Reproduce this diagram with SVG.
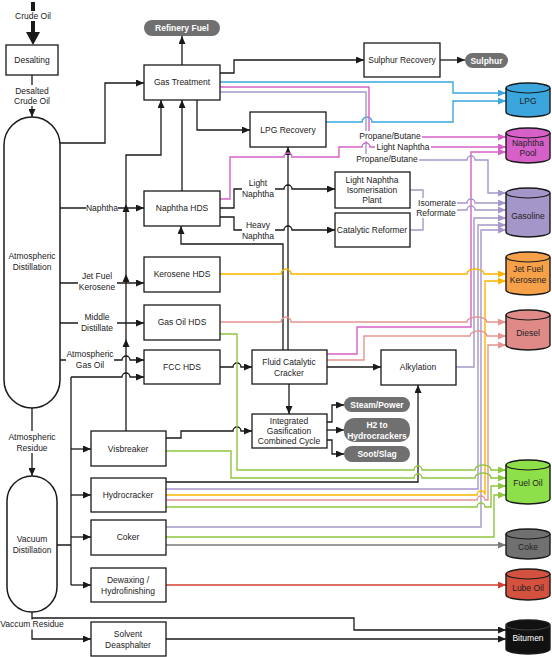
<svg xmlns="http://www.w3.org/2000/svg" width="552" height="657" viewBox="0 0 552 657">
<style>
.bx{fill:#fff;stroke:#1a1a1a;stroke-width:1.3}
.col{fill:#fff;stroke:#1a1a1a;stroke-width:1.5}
.t{font-family:"Liberation Sans",Arial,sans-serif;font-size:8.5px;fill:#222;text-anchor:middle;dominant-baseline:central}
.pt{font-family:"Liberation Sans",Arial,sans-serif;font-size:8.5px;font-weight:bold;fill:#fff;text-anchor:middle;dominant-baseline:central}
.pill{fill:#707070}
.tank{stroke:#1a1a1a;stroke-width:1.4}
.tl{fill:none;stroke:#1a1a1a;stroke-width:1.2}
.k{fill:none;stroke:#1a1a1a;stroke-width:1.3}
.B{fill:none;stroke:#3aa6dd;stroke-width:1.4}
.P{fill:none;stroke:#d660c8;stroke-width:1.4}
.L{fill:none;stroke:#a596c9;stroke-width:1.4}
.O{fill:none;stroke:#fbb400;stroke-width:1.4}
.S{fill:none;stroke:#e59590;stroke-width:1.4}
.G{fill:none;stroke:#8dc63f;stroke-width:1.4}
.C{fill:none;stroke:#7a7a7a;stroke-width:1.4}
.R{fill:none;stroke:#d2412f;stroke-width:1.4}
.lb{fill:#fff}
</style>
<defs>
<marker id="aK" viewBox="0 0 8 7" refX="8" refY="3.5" markerWidth="8" markerHeight="7" markerUnits="userSpaceOnUse" orient="auto"><path d="M0,0 L8,3.5 L0,7 z" fill="#1a1a1a"/></marker>
<marker id="aB" viewBox="0 0 8 7" refX="8" refY="3.5" markerWidth="8" markerHeight="7" markerUnits="userSpaceOnUse" orient="auto"><path d="M0,0 L8,3.5 L0,7 z" fill="#3aa6dd"/></marker>
<marker id="aP" viewBox="0 0 8 7" refX="8" refY="3.5" markerWidth="8" markerHeight="7" markerUnits="userSpaceOnUse" orient="auto"><path d="M0,0 L8,3.5 L0,7 z" fill="#d660c8"/></marker>
<marker id="aL" viewBox="0 0 8 7" refX="8" refY="3.5" markerWidth="8" markerHeight="7" markerUnits="userSpaceOnUse" orient="auto"><path d="M0,0 L8,3.5 L0,7 z" fill="#a596c9"/></marker>
<marker id="aO" viewBox="0 0 8 7" refX="8" refY="3.5" markerWidth="8" markerHeight="7" markerUnits="userSpaceOnUse" orient="auto"><path d="M0,0 L8,3.5 L0,7 z" fill="#fbb400"/></marker>
<marker id="aS" viewBox="0 0 8 7" refX="8" refY="3.5" markerWidth="8" markerHeight="7" markerUnits="userSpaceOnUse" orient="auto"><path d="M0,0 L8,3.5 L0,7 z" fill="#e59590"/></marker>
<marker id="aG" viewBox="0 0 8 7" refX="8" refY="3.5" markerWidth="8" markerHeight="7" markerUnits="userSpaceOnUse" orient="auto"><path d="M0,0 L8,3.5 L0,7 z" fill="#8dc63f"/></marker>
<marker id="aC" viewBox="0 0 8 7" refX="8" refY="3.5" markerWidth="8" markerHeight="7" markerUnits="userSpaceOnUse" orient="auto"><path d="M0,0 L8,3.5 L0,7 z" fill="#7a7a7a"/></marker>
<marker id="aR" viewBox="0 0 8 7" refX="8" refY="3.5" markerWidth="8" markerHeight="7" markerUnits="userSpaceOnUse" orient="auto"><path d="M0,0 L8,3.5 L0,7 z" fill="#d2412f"/></marker>
</defs>
<rect width="552" height="657" fill="#fff"/>

<g id="connectors">
<!-- crude oil feed -->
<path d="M33,2 V34" fill="none" stroke="#1a1a1a" stroke-width="4"/>
<polygon points="26,32 40,32 33,45" fill="#1a1a1a"/>
<path class="k" d="M32,75 V117" marker-end="url(#aK)"/>
<path class="k" d="M32,408 V476" marker-end="url(#aK)"/>
<path class="k" d="M60,143 H105 V83 H144" marker-end="url(#aK)"/>
<path class="k" d="M60,208 H144" marker-end="url(#aK)"/>
<path class="k" d="M60,283 H144" marker-end="url(#aK)"/>
<path class="k" d="M60,323 H144" marker-end="url(#aK)"/>
<path class="k" d="M60,360 H122 a4,4 0 0 1 8,0 H144" marker-end="url(#aK)"/>
<path class="k" d="M57,545 H71 M71,377 V585"/>
<path class="k" d="M71,377 H122 a4,4 0 0 1 8,0 H144" marker-end="url(#aK)"/>
<path class="k" d="M71,449 H91" marker-end="url(#aK)"/>
<path class="k" d="M71,495 H91" marker-end="url(#aK)"/>
<path class="k" d="M71,537 H91" marker-end="url(#aK)"/>
<path class="k" d="M71,585 H91" marker-end="url(#aK)"/>
<path class="k" d="M126,431 V155 H161 V100" marker-end="url(#aK)"/>
<polygon points="122.5,212 129.5,212 126,204" fill="#1a1a1a"/>
<polygon points="122.5,282 129.5,282 126,274" fill="#1a1a1a"/>
<polygon points="122.5,347 129.5,347 126,339" fill="#1a1a1a"/>
<path class="k" d="M182,191 V100" marker-end="url(#aK)"/>
<path class="k" d="M182,65 V36" marker-end="url(#aK)"/>
<path class="k" d="M220,73 H234 V60 H364" marker-end="url(#aK)"/>
<path class="k" d="M440,60 H465" marker-end="url(#aK)"/>
<path class="k" d="M197,100 V130 H250" marker-end="url(#aK)"/>
<path class="k" d="M220,208 H234 V189 H284 a4,4 0 0 1 8,0 H335" marker-end="url(#aK)"/>
<path class="k" d="M220,217 H234 V230 H284 a4,4 0 0 1 8,0 H335" marker-end="url(#aK)"/>
<path class="k" d="M288,350 V147" marker-end="url(#aK)"/>
<path class="k" d="M283,350 V244 H181 V226" marker-end="url(#aK)"/>
<path class="k" d="M220,367 H233 a4,4 0 0 1 8,0 H252" marker-end="url(#aK)"/>
<path class="k" d="M327,367 H381" marker-end="url(#aK)"/>
<path class="k" d="M289,384 V414" marker-end="url(#aK)"/>
<path class="k" d="M166,438 H181 V431 H233 a4,4 0 0 1 8,0 H252" marker-end="url(#aK)"/>
<path class="k" d="M327,422 H332 V405 H344" marker-end="url(#aK)"/>
<path class="k" d="M327,430 H344" marker-end="url(#aK)"/>
<path class="k" d="M327,440 H332 V454 H344" marker-end="url(#aK)"/>
<path class="k" d="M166,482 H418 V385" marker-end="url(#aK)"/>
<path class="k" d="M32,612 V639 H91" marker-end="url(#aK)"/>
<path class="k" d="M32,618 H354 V630 H506" marker-end="url(#aK)"/>
<path class="k" d="M166,639 H506" marker-end="url(#aK)"/>

<!-- LPG -->
<path class="B" d="M220,82 H453 V93 H506" marker-end="url(#aB)"/>
<path class="B" d="M326,122 H362 a5,5 0 0 1 10,0 H453 V101 H506" marker-end="url(#aB)"/>
<!-- Naphtha pool -->
<path class="P" d="M220,87 H369 V137 H506" marker-end="url(#aP)"/>
<path class="P" d="M220,199 H230 V157 H284 a4,4 0 0 1 8,0 H339 V147 H362 a4,4 0 0 1 8,0 H506" marker-end="url(#aP)"/>
<path class="P" d="M327,354 H357 V327 H471 V152 H506" marker-end="url(#aP)"/>
<!-- Gasoline -->
<path class="L" d="M220,92 H366 V160 H467 a4,4 0 0 1 8,0 H488 V193 H506" marker-end="url(#aL)"/>
<path class="L" d="M410,190 H423 V203 H467 a4,4 0 0 1 8,0 H506" marker-end="url(#aL)"/>
<path class="L" d="M410,230 H423 V210 H467 a4,4 0 0 1 8,0 H506" marker-end="url(#aL)"/>
<path class="L" d="M456,367 H474 V218 H506" marker-end="url(#aL)"/>
<path class="L" d="M166,489 H478 V225 H506" marker-end="url(#aL)"/>
<path class="L" d="M166,527 H481 V230 H506" marker-end="url(#aL)"/>
<!-- Jet fuel -->
<path class="O" d="M220,274 H281 a5,5 0 0 1 10,0 H467 a8.5,5 0 0 1 17,0 H506" marker-end="url(#aO)"/>
<path class="O" d="M166,495 H477 a4,4 0 0 1 8,0 V281 H506" marker-end="url(#aO)"/>
<!-- Diesel -->
<path class="S" d="M220,322 H281 a5,5 0 0 1 10,0 H467 a10,5 0 0 1 20,0 H506" marker-end="url(#aS)"/>
<path class="S" d="M327,360 H364 V336 H470 a8.5,5 0 0 1 17,0 H506" marker-end="url(#aS)"/>
<path class="S" d="M166,500 H477 a4,4 0 0 1 8,0 H488 V345 H506" marker-end="url(#aS)"/>
<!-- Fuel oil -->
<path class="G" d="M220,334 H237 V470 H414 a4,4 0 0 1 8,0 H475 a8,5 0 0 1 16,0 H506" marker-end="url(#aG)"/>
<path class="G" d="M166,451 H231 V478 H414 a4,4 0 0 1 8,0 H475 a8,5 0 0 1 16,0 H506" marker-end="url(#aG)"/>
<path class="G" d="M166,507 H477 a4,4 0 0 1 8,0 H491 V486 H506" marker-end="url(#aG)"/>
<path class="G" d="M166,537 H494 V495 H506" marker-end="url(#aG)"/>
<!-- Coke, Lube -->
<path class="C" d="M166,545 H506" marker-end="url(#aC)"/>
<path class="R" d="M166,585 H506" marker-end="url(#aR)"/>

<!-- connector labels -->
<rect class="lb" x="13" y="11" width="40" height="10"/>
<text class="t" x="33" y="16">Crude Oil</text>
<rect class="lb" x="12" y="85" width="40" height="21"/>
<text class="t" x="32" y="90.5">Desalted</text>
<text class="t" x="32" y="101">Crude Oil</text>
<rect class="lb" x="86" y="203" width="32" height="10"/>
<text class="t" x="102" y="208">Naphtha</text>
<rect class="lb" x="78" y="270" width="39" height="22"/>
<text class="t" x="97" y="276">Jet Fuel</text>
<text class="t" x="97" y="287">Kerosene</text>
<rect class="lb" x="78" y="311" width="39" height="22"/>
<text class="t" x="97" y="317">Middle</text>
<text class="t" x="97" y="328">Distillate</text>
<rect class="lb" x="66" y="348" width="48" height="22"/>
<text class="t" x="90" y="354">Atmospheric</text>
<text class="t" x="90" y="365">Gas Oil</text>
<rect class="lb" x="8" y="431" width="49" height="22"/>
<text class="t" x="32" y="437">Atmospheric</text>
<text class="t" x="32" y="448">Residue</text>
<rect class="lb" x="0" y="619.5" width="66" height="10"/>
<text class="t" x="32" y="624">Vaccum Residue</text>
<rect class="lb" x="242" y="177" width="33" height="22"/>
<text class="t" x="258" y="183">Light</text>
<text class="t" x="258" y="194">Naphtha</text>
<rect class="lb" x="242" y="219" width="33" height="22"/>
<text class="t" x="258" y="225">Heavy</text>
<text class="t" x="258" y="236">Naphtha</text>
<rect class="lb" x="358" y="131" width="64" height="10"/>
<text class="t" x="390" y="136">Propane/Butane</text>
<rect class="lb" x="375" y="142" width="56" height="10"/>
<text class="t" x="403" y="147">Light Naphtha</text>
<rect class="lb" x="355" y="154" width="64" height="10"/>
<text class="t" x="387" y="159">Propane/Butane</text>
<rect class="lb" x="417" y="198" width="40" height="10"/>
<text class="t" x="437" y="203">Isomerate</text>
<rect class="lb" x="415" y="208" width="42" height="10"/>
<text class="t" x="436" y="213">Reformate</text>
</g>

<g id="desalting"><rect class="bx" x="6" y="45" width="52" height="30"/><text class="t" x="32" y="60">Desalting</text></g>
<g id="atm-distillation"><rect class="col" x="4" y="117" width="56" height="291" rx="28" ry="28"/><text class="t" x="32" y="256">Atmospheric</text><text class="t" x="32" y="267">Distillation</text></g>
<g id="vac-distillation"><rect class="col" x="7" y="476" width="50" height="136" rx="25" ry="25"/><text class="t" x="32" y="539">Vacuum</text><text class="t" x="32" y="550">Distillation</text></g>
<g id="refinery-fuel"><rect class="pill" x="144" y="20" width="76" height="16" rx="8"/><text class="pt" x="182" y="28">Refinery Fuel</text></g>
<g id="gas-treatment"><rect class="bx" x="144" y="65" width="76" height="35"/><text class="t" x="182" y="82">Gas Treatment</text></g>
<g id="sulphur-recovery"><rect class="bx" x="364" y="43" width="76" height="34"/><text class="t" x="402" y="60">Sulphur Recovery</text></g>
<g id="sulphur"><rect class="pill" x="465" y="53" width="43" height="15" rx="7.5"/><text class="pt" x="486.5" y="60.5">Sulphur</text></g>
<g id="lpg-recovery"><rect class="bx" x="250" y="112" width="76" height="35"/><text class="t" x="288" y="130">LPG Recovery</text></g>
<g id="naphtha-hds"><rect class="bx" x="144" y="191" width="76" height="35"/><text class="t" x="182" y="208">Naphtha HDS</text></g>
<g id="isomerisation"><rect class="bx" x="335" y="172" width="75" height="36"/><text class="t" x="372" y="180">Light Naphtha</text><text class="t" x="372" y="190">Isomerisation</text><text class="t" x="372" y="200">Plant</text></g>
<g id="reformer"><rect class="bx" x="335" y="213" width="75" height="34"/><text class="t" x="372" y="230">Catalytic Reformer</text></g>
<g id="kerosene-hds"><rect class="bx" x="144" y="257" width="76" height="35"/><text class="t" x="182" y="274">Kerosene HDS</text></g>
<g id="gasoil-hds"><rect class="bx" x="144" y="305" width="76" height="35"/><text class="t" x="182" y="322">Gas Oil HDS</text></g>
<g id="fcc-hds"><rect class="bx" x="144" y="350" width="76" height="34"/><text class="t" x="182" y="367">FCC HDS</text></g>
<g id="fcc"><rect class="bx" x="252" y="350" width="75" height="34"/><text class="t" x="289" y="362">Fluid Catalytic</text><text class="t" x="289" y="373">Cracker</text></g>
<g id="alkylation"><rect class="bx" x="381" y="350" width="75" height="35"/><text class="t" x="418" y="367">Alkylation</text></g>
<g id="igcc"><rect class="bx" x="252" y="414" width="75" height="34"/><text class="t" x="289" y="421">Integrated</text><text class="t" x="289" y="431">Gasification</text><text class="t" x="289" y="441">Combined Cycle</text></g>
<g id="steam-power"><rect class="pill" x="344" y="397" width="66" height="15" rx="7.5"/><text class="pt" x="377" y="404.5">Steam/Power</text></g>
<g id="h2"><rect class="pill" x="344" y="418" width="66" height="24" rx="10"/><text class="pt" x="377" y="425">H2 to</text><text class="pt" x="377" y="435.5">Hydrocrackers</text></g>
<g id="soot-slag"><rect class="pill" x="344" y="446" width="66" height="16" rx="8"/><text class="pt" x="377" y="454">Soot/Slag</text></g>
<g id="visbreaker"><rect class="bx" x="91" y="431" width="75" height="35"/><text class="t" x="128" y="449">Visbreaker</text></g>
<g id="hydrocracker"><rect class="bx" x="91" y="478" width="75" height="34"/><text class="t" x="128" y="495">Hydrocracker</text></g>
<g id="coker"><rect class="bx" x="91" y="520" width="75" height="35"/><text class="t" x="128" y="537">Coker</text></g>
<g id="dewaxing"><rect class="bx" x="91" y="568" width="75" height="34"/><text class="t" x="128" y="580">Dewaxing /</text><text class="t" x="128" y="591">Hydrofinishing</text></g>
<g id="deasphalter"><rect class="bx" x="91" y="622" width="75" height="34"/><text class="t" x="128" y="634">Solvent</text><text class="t" x="128" y="645">Deasphalter</text></g>

<g id="tank-lpg"><path class="tank" fill="#3aa6dd" d="M506,88 A22,5 0 0 1 550,88 V112 A22,5 0 0 1 506,112 Z"/><path class="tl" d="M506,88 A22,5 0 0 0 550,88"/><text class="t" x="528" y="101">LPG</text></g>
<g id="tank-naphtha"><path class="tank" fill="#d660c8" d="M506,133 A22,5 0 0 1 550,133 V158 A22,5 0 0 1 506,158 Z"/><path class="tl" d="M506,133 A22,5 0 0 0 550,133"/><text class="t" x="528" y="143">Naphtha</text><text class="t" x="528" y="153">Pool</text></g>
<g id="tank-gasoline"><path class="tank" fill="#a596c9" d="M506,193 A22,5 0 0 1 550,193 V232 A22,5 0 0 1 506,232 Z"/><path class="tl" d="M506,193 A22,5 0 0 0 550,193"/><text class="t" x="528" y="216">Gasoline</text></g>
<g id="tank-jet"><path class="tank" fill="#f7a04a" d="M506,257 A22,5 0 0 1 550,257 V290 A22,5 0 0 1 506,290 Z"/><path class="tl" d="M506,257 A22,5 0 0 0 550,257"/><text class="t" x="528" y="269">Jet Fuel</text><text class="t" x="528" y="279.5">Kerosene</text></g>
<g id="tank-diesel"><path class="tank" fill="#e08a88" d="M506,315 A22,5 0 0 1 550,315 V345 A22,5 0 0 1 506,345 Z"/><path class="tl" d="M506,315 A22,5 0 0 0 550,315"/><text class="t" x="528" y="333">Diesel</text></g>
<g id="tank-fueloil"><path class="tank" fill="#8ee04a" d="M506,465 A22,5 0 0 1 550,465 V499 A22,5 0 0 1 506,499 Z"/><path class="tl" d="M506,465 A22,5 0 0 0 550,465"/><text class="t" x="528" y="483">Fuel Oil</text></g>
<g id="tank-coke"><path class="tank" fill="#707070" d="M506,534 A22,5 0 0 1 550,534 V554 A22,5 0 0 1 506,554 Z"/><path class="tl" d="M506,534 A22,5 0 0 0 550,534"/><text class="t" x="528" y="547">Coke</text></g>
<g id="tank-lube"><path class="tank" fill="#d4503f" d="M506,574 A22,5 0 0 1 550,574 V595 A22,5 0 0 1 506,595 Z"/><path class="tl" d="M506,574 A22,5 0 0 0 550,574"/><text class="t" x="528" y="588">Lube Oil</text></g>
<g id="tank-bitumen"><path class="tank" fill="#111" d="M506,625 A22,5 0 0 1 550,625 V649 A22,5 0 0 1 506,649 Z"/><path fill="none" stroke="#444" stroke-width="1" d="M506,625 A22,5 0 0 0 550,625"/><text class="t" x="528" y="638" style="fill:#fff">Bitumen</text></g>
</svg>
